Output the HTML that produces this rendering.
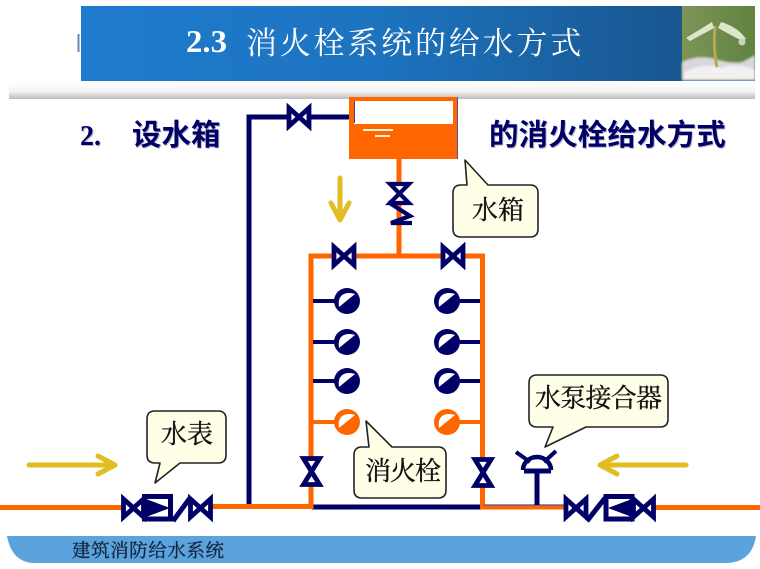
<!DOCTYPE html>
<html><head><meta charset="utf-8"><style>
html,body{margin:0;padding:0;background:#fff;width:760px;height:569px;overflow:hidden}
svg{display:block}
.cjk{font-family:"Liberation Serif","Noto Serif CJK SC",serif}
.lab{font-family:"Liberation Serif","Noto Serif CJK SC",serif;font-size:26px;fill:#111;stroke:#111;stroke-width:.35}
.h{font-family:"Liberation Sans","Noto Sans CJK SC",sans-serif;font-weight:700;font-size:29.500px}
.n{fill:none;stroke:#000066;stroke-width:5}
.o{fill:none;stroke:#FF6600;stroke-width:5}
.y{fill:none;stroke:#E0BE22;stroke-width:5;stroke-linecap:round;stroke-linejoin:round}
.c{fill:#FFFFE8;stroke:#222;stroke-width:1.6;stroke-linejoin:round}
.v{fill:#fff;stroke:#000066;stroke-width:4.800;stroke-linejoin:miter}
</style></head><body>
<svg width="760" height="569" viewBox="0 0 760 569" xmlns="http://www.w3.org/2000/svg">
<defs>
<linearGradient id="hd" x1="0" x2="1" y1="0" y2="0"><stop offset="0" stop-color="#1F7BCE"/><stop offset=".5" stop-color="#1D73BF"/><stop offset="1" stop-color="#18568F"/></linearGradient>
<linearGradient id="sh" x1="0" x2="0" y1="0" y2="1"><stop offset="0" stop-color="#fff"/><stop offset=".55" stop-color="#F4F4F4"/><stop offset="1" stop-color="#BBBBBB"/></linearGradient>
<linearGradient id="pl" x1="0" x2="1" y1="0" y2="0"><stop offset="0" stop-color="#7E9458"/><stop offset="1" stop-color="#5F8340"/></linearGradient>
<filter id="bl"><feGaussianBlur stdDeviation="1"/></filter>
<g id="bow"><path class="v" d="M-10,-9 L10,9 V-9 L-10,9 Z"/></g>
<g id="vv"><path class="v" d="M-8,-13 H8 L-8,13 H8 Z"/></g>
<g id="hy"><circle r="13" fill="currentColor"/><path d="M-8,6 C-10,-6 -2,-10 8,-7 Z" fill="#fff"/></g>
</defs>

<!-- header -->
<rect x="9" y="82" width="746" height="17" fill="url(#sh)"/>
<rect x="81" y="6" width="601" height="75" fill="url(#hd)"/>
<rect x="77.500" y="34" width="2" height="18" fill="#6C86B8"/>
<rect x="682" y="6" width="73" height="74" fill="url(#pl)"/>
<rect x="682" y="80" width="73" height="1" fill="#3F6FA8"/>
<g filter="url(#bl)">
<path d="M682,62 Q695,55 712,58 Q730,64 742,62 Q750,58 755,55 V80 H682 Z" fill="#DAD6DC"/>
<path d="M684,72 Q705,62 722,68 Q735,62 755,70 V80 H684 Z" fill="#F2F0F2"/>
</g>
<path d="M715,26 Q713,50 717,67" fill="none" stroke="#B7A956" stroke-width="3"/>
<path d="M686,38 L712,22 L714,28 L690,41 Z" fill="#DDE6C8"/>
<path d="M718,28 L721,22 Q738,27 746,39 L742,41 Z" fill="#DDE6C8"/>
<circle cx="742" cy="42" r="3.500" fill="#C9D4BC"/>
<text x="186" y="52" font-family="Liberation Serif,serif" font-weight="700" font-size="32" fill="#fff" textLength="41" lengthAdjust="spacingAndGlyphs">2.3</text>
<text x="246" y="54" font-family="&quot;Noto Serif CJK SC&quot;,serif" font-size="31" fill="#fff" letter-spacing="2.800">消火栓系统的给水方式</text>

<!-- heading -->
<g fill="#B8B8C8" transform="translate(1,1)">
<text x="80" y="145" font-family="Liberation Serif,serif" font-weight="700" font-size="28">2.</text>
<text class="h" x="132" y="145">设水箱</text>
<text class="h" x="489" y="145" letter-spacing=".1">的消火栓给水方式</text>
</g>
<g fill="#000066">
<text x="80" y="145" font-family="Liberation Serif,serif" font-weight="700" font-size="28">2.</text>
<text class="h" x="132" y="145">设水箱</text>
<text class="h" x="489" y="145" letter-spacing=".1">的消火栓给水方式</text>
</g>

<!-- navy riser -->
<path class="n" d="M249,506 V117 H349"/>

<!-- tank -->
<rect x="349" y="97" width="108" height="62" fill="#FF6600"/>
<rect x="457" y="97" width="1" height="62" fill="#55508F"/>
<rect x="354" y="101" width="99" height="23" fill="#fff"/>
<rect x="354" y="101" width="1" height="22" fill="#3F3F9F"/>
<rect x="363" y="129" width="30" height="2" fill="#FFF0E0"/>
<rect x="375" y="135" width="15" height="2" fill="#FFF0E0"/>

<!-- orange loop -->
<path class="n" d="M312,507 H482"/>
<path class="o" d="M399,159 V258"/>
<path class="o" d="M311,509 V256 H482.500 V509"/>
<path class="o" d="M0,507.500 H125"/>
<path class="o" d="M210,506.500 H313"/>
<path class="o" d="M481,507 H566"/>
<path d="M484,505 H566" fill="none" stroke="#55508F" stroke-width="1.200"/>
<path class="o" d="M650,507.500 H760"/>

<!-- check valve on riser -->
<path d="M390,203 L409,184 H390 L409,203 Z" fill="#fff" stroke="#000066" stroke-width="4.200"/>
<path d="M388,202 L410,216 L391,223 H412" fill="none" stroke="#000066" stroke-width="4.200"/>
<rect x="389" y="190" width="0" height="0"/>

<!-- valves -->
<use href="#bow" x="299" y="117"/>
<use href="#bow" x="344" y="256"/>
<use href="#bow" x="453" y="256"/>
<use href="#vv" x="311.500" y="471.500"/>
<use href="#vv" x="483" y="472.500"/>

<!-- hydrants -->
<g class="n" style="stroke-width:4">
<path d="M313,301 H340 M313,342 H340 M313,381 H340"/>
<path d="M454,301 H480 M454,342 H480 M454,381 H480"/>
</g>
<path d="M313,422 H340 M454,422 H480" fill="none" stroke="#FF6600" stroke-width="4"/>
<g color="#000066">
<use href="#hy" x="347" y="301"/><use href="#hy" x="347" y="342"/><use href="#hy" x="347" y="381"/>
<use href="#hy" x="447" y="301"/><use href="#hy" x="447" y="342"/><use href="#hy" x="447" y="381"/>
</g>
<g color="#FF6600"><use href="#hy" x="347" y="422"/><use href="#hy" x="447" y="422"/></g>

<!-- meter left -->
<use href="#bow" x="133.500" y="508"/>
<rect x="144.500" y="496.500" width="26" height="22.500" fill="#fff" stroke="#000066" stroke-width="5"/>
<path d="M146,499 L170,508 L146,517 Z" fill="#000066"/>
<path d="M173,521 L190,498" stroke="#000066" stroke-width="5"/>
<use href="#bow" x="200.500" y="508"/>

<!-- meter right -->
<use href="#bow" x="576" y="508"/>
<path d="M587,521 L605,498" stroke="#000066" stroke-width="5"/>
<rect x="606" y="496.500" width="26" height="22.500" fill="#fff" stroke="#000066" stroke-width="5"/>
<path d="M632,499 L608,508 L632,517 Z" fill="#000066"/>
<use href="#bow" x="643.500" y="508"/>

<!-- pump connector -->
<path class="n" d="M537,505 V472"/>
<path d="M523,470 A14,13 0 0 1 551,470" fill="#fff" stroke="#000066" stroke-width="4.500"/>
<path d="M524,471 H551" stroke="#000066" stroke-width="5"/>
<path d="M516,452 L530,462 M556,451 L544,462" stroke="#000066" stroke-width="4"/>

<!-- yellow arrows -->
<path class="y" d="M29,465 H113 M98,456 L115,465 L98,474"/>
<path class="y" d="M686,465 H602 M617,456 L600,465 L617,474"/>
<path class="y" d="M340,178 V219 M331,203 L340,220 L349,203"/>

<!-- callouts -->
<path class="c" d="M155,411 H218 Q226,411 226,419 V455 Q226,463 218,463 H180 L155,483 L160,463 H155 Q147,463 147,455 V419 Q147,411 155,411 Z"/>
<text class="lab" x="161" y="443" textLength="52">水表</text>
<path class="c" d="M537,375 H660 Q668,375 668,383 V419 Q668,427 660,427 H586 L545,447 L553,427 H537 Q529,427 529,419 V383 Q529,375 537,375 Z"/>
<text class="lab" x="535" y="407" textLength="127">水泵接合器</text>
<path class="c" d="M461,185 H467 L465,160 L488,185 H530 Q538,185 538,193 V229 Q538,237 530,237 H461 Q453,237 453,229 V193 Q453,185 461,185 Z"/>
<text class="lab" x="472" y="219" textLength="52">水箱</text>
<path class="c" d="M362,447 H369 L366,421 L392,447 H438 Q446,447 446,455 V490 Q446,498 438,498 H362 Q354,498 354,490 V455 Q354,447 362,447 Z"/>
<text class="lab" x="365" y="480" textLength="76">消火栓</text>

<!-- footer -->
<path d="M7,536 H756 Q752,563 725,563 H35 Q12,563 7,536 Z" fill="#5BA3DC"/>
<text x="72" y="557" class="cjk" font-size="18.500" fill="#14233f" stroke="#14233f" stroke-width=".3" textLength="152">建筑消防给水系统</text>
</svg>
</body></html>
